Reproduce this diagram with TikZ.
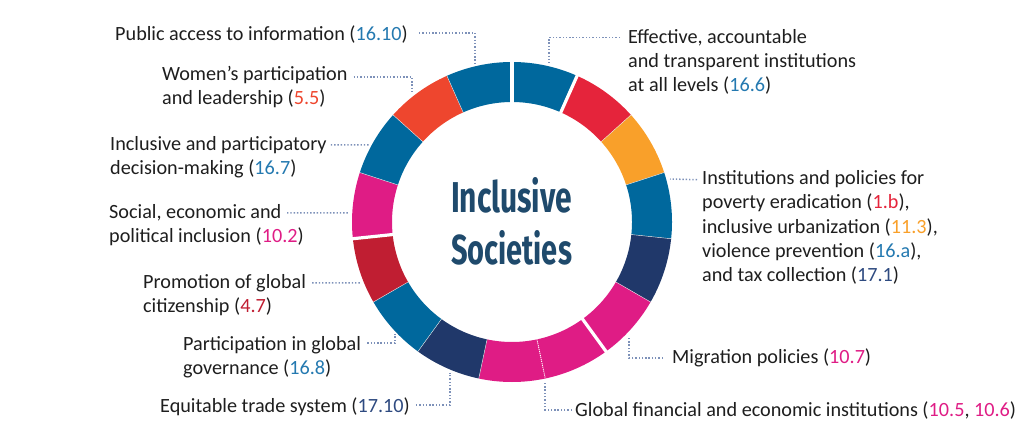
\documentclass[tikz,border=0pt]{standalone}
\usepackage{fontspec}
\setmainfont{Carlito}
\newfontfamily\titlefont{Fira Sans}
\usetikzlibrary{calc}
\definecolor{sblue}{HTML}{00689D}
\definecolor{sred}{HTML}{E5243B}
\definecolor{sorange}{HTML}{F9A02A}
\definecolor{snavy}{HTML}{20386A}
\definecolor{smag}{HTML}{DF1C85}
\definecolor{sdred}{HTML}{C01E32}
\definecolor{sored}{HTML}{EE462E}
\definecolor{tblue}{HTML}{2479B0}
\definecolor{tnavy}{HTML}{2E4A80}
\definecolor{ttext}{HTML}{1E1E1E}
\definecolor{conncol}{HTML}{7D91B9}
\definecolor{titlecol}{HTML}{1F4A6C}
\newcommand{\nblue}[1]{\textcolor{tblue}{#1}}
\newcommand{\nnavy}[1]{\textcolor{tnavy}{#1}}
\newcommand{\nred}[1]{\textcolor{sred}{#1}}
\newcommand{\norange}[1]{\textcolor{sorange}{#1}}
\newcommand{\nored}[1]{\textcolor{sored}{#1}}
\newcommand{\nmag}[1]{\textcolor{smag}{#1}}
\newcommand{\ndred}[1]{\textcolor{sdred}{#1}}
\tikzset{
  lbl/.style={font=\fontsize{20.2}{24.2}\selectfont, align=left, inner sep=0pt, anchor=base west, text=ttext},
  conn/.style={draw=conncol, line width=1.5pt, dash pattern=on 1.4pt off 1.9pt},
  ttl/.style={inner sep=0pt, anchor=base, text=titlecol},
}
\begin{document}
\begin{tikzpicture}[x=1pt,y=1pt]
\useasboundingbox (0,0) rectangle (1024,-443);
% ring
\begin{scope}[shift={(512,-222)}]
  \foreach \a/\c in {90/sblue,66/sred,42/sorange,18/sblue,-6/snavy,-30/smag,-54/smag,-78/smag,-102/snavy,-126/sblue,-150/sdred,-174/smag,-198/sblue,-222/sored,-246/sblue}{
    \fill[\c] (\a:160) arc[start angle=\a, end angle=\a-24, radius=160] -- ({\a-24}:120) arc[start angle=\a-24, end angle=\a, radius=120] -- cycle;
  }
  \foreach \a in {42,18,-6,-30,-102,-126,-150,-198,-222,-246}{
    \draw[white!80!gray, line width=0.4pt] (\a:119.5) -- (\a:160.5);
  }
  \foreach \a in {90,66,-54,-174}{
    \draw[white, line width=3.2pt] (\a:118) -- (\a:162);
  }
  \draw[white, line width=0.9pt, dash pattern=on 1pt off 1pt] (-78:120) -- (-78:160);
\end{scope}
% title
\node[ttl] (t1) at (511.5,-213) {\resizebox{121pt}{35pt}{\titlefont\bfseries Inclusive}};
\node[ttl] (t2) at (511.5,-265) {\resizebox{121pt}{34pt}{\titlefont\bfseries Societies}};
% labels (anchor = baseline of last line)
\node[lbl] (l1) at (115,-41) {Public access to information (\nblue{16.10})};
\node[lbl] (l2) at (162,-105) {Women’s participation\\and leadership (\nored{5.5})};
\node[lbl] (l3) at (628,-92) {Effective, accountable\\and transparent institutions\\at all levels (\nblue{16.6})};
\node[lbl] (l4) at (702,-281.5) {Institutions and policies for\\poverty eradication (\nred{1.b}),\\inclusive urbanization (\norange{11.3}),\\violence prevention (\nblue{16.a}),\\and tax collection (\nnavy{17.1})};
\node[lbl] (l5) at (110,-174.5) {Inclusive and participatory\\decision-making (\nblue{16.7})};
\node[lbl] (l6) at (109,-243) {Social, economic and\\political inclusion (\nmag{10.2})};
\node[lbl] (l7) at (143,-312.5) {Promotion of global\\citizenship (\ndred{4.7})};
\node[lbl] (l8) at (183,-374.5) {Participation in global\\governance (\nblue{16.8})};
\node[lbl] (l9) at (160,-412) {Equitable trade system (\nnavy{17.10})};
\node[lbl] (l10) at (575,-416) {Global financial and economic institutions (\nmag{10.5}, \nmag{10.6})};
\node[lbl] (l11) at (672,-363) {Migration policies (\nmag{10.7})};
% ring anchor points
\coordinate (r1) at (475,-63);
\coordinate (r2) at (412,-93);
\coordinate (r3) at (549,-63);
\coordinate (r4) at (670,-179);
\coordinate (r5) at (369,-145);
\coordinate (r6) at (349,-213);
\coordinate (r7) at (360,-283);
\coordinate (r8) at (395,-334);
\coordinate (r9) at (450,-373);
\coordinate (r10) at (545,-381);
\coordinate (r11) at (629,-336);
% connectors
\draw[conn] ([shift={(11pt,8pt)}]l1.base east) -| (r1);
\draw[conn] ([shift={(6pt,28.2pt)}]l2.base east) -| (r2);
\draw[conn] ([shift={(-8pt,54.4pt)}]l3.base west) -| (r3);
\draw[conn] ([shift={(-5pt,101.8pt)}]l4.base west) -- (r4);
\draw[conn] ([shift={(4pt,29.7pt)}]l5.base east) -- (r5);
\draw[conn] ([shift={(178pt,30.2pt)}]l6.base west) -- (r6);
\draw[conn] ([shift={(6pt,29.7pt)}]l7.base east) -- (r7);
\draw[conn] ([shift={(6pt,31.5pt)}]l8.base east) -| (r8);
\draw[conn] ([shift={(6pt,7pt)}]l9.base east) -| (r9);
\draw[conn] ([shift={(-3pt,6pt)}]l10.base west) -| (r10);
\draw[conn] ([shift={(-9pt,5pt)}]l11.base west) -| (r11);
\end{tikzpicture}
\end{document}
